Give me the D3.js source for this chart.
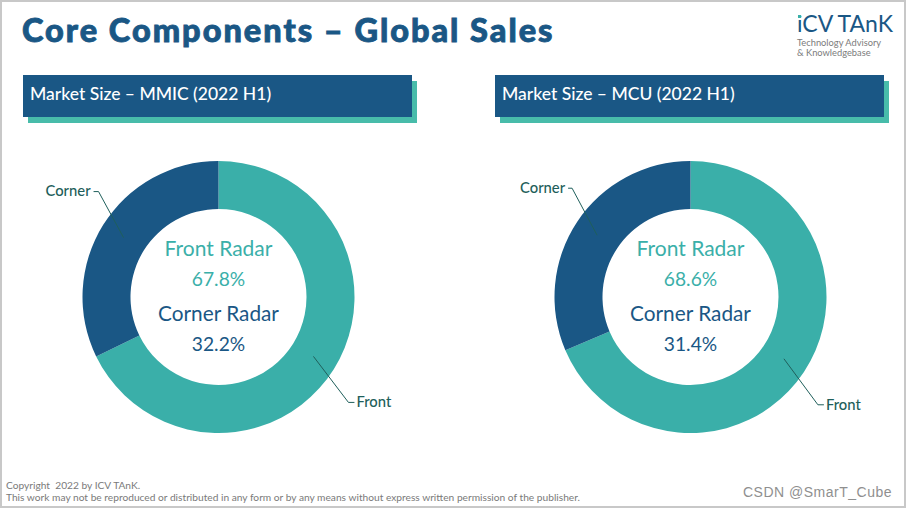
<!DOCTYPE html>
<html>
<head>
<meta charset="utf-8">
<script src="https://cdn.jsdelivr.net/npm/d3@7"></script>
<style>
html,body{margin:0;padding:0;background:#fff;}
svg{display:block;}
text{font-family:Lato,"Noto Sans",sans-serif;white-space:pre;}
</style>
</head>
<body>
<div id="chart"></div>
<script>
var width = 906,
	height = 508,
	cy = 297,
	outer_r = 136,
	inner_r = 88;

var navy = "#1a5785",
	teal = "#3aafa9",
	shadow = "#48bcaa",
	leader = "#1f5f5b";

// data
var categories = ["Front","Corner"];
var mmic_values = [67.8,32.2];
var mcu_values = [68.6,31.4];
var center_labels = ["Front Radar","Corner Radar"];
var panel_titles = ["Market Size – MMIC (2022 H1)","Market Size – MCU (2022 H1)"];

var panels = [
	{title:panel_titles[0], values:mmic_values, cx:218.5, bar_x:23, bar_w:389,
		elbows:{Front:[35,46,6],Corner:[-25,-46,-5]}},
	{title:panel_titles[1], values:mcu_values, cx:690.5, bar_x:495, bar_w:389,
		elbows:{Front:[34,46,6],Corner:[-25,-47,-4]}}
];

var svg = d3.select("#chart").append("svg")
	.attr("width",width)
	.attr("height",height);

svg.append("rect")
	.attr("x",1).attr("y",1)
	.attr("width",width-2).attr("height",height-2)
	.attr("fill","#fff")
	.attr("stroke","#c8c8c8")
	.attr("stroke-width",2);

svg.append("text")
	.attr("x",22).attr("y",42)
	.attr("fill",navy)
	.attr("stroke",navy)
	.attr("stroke-width",0.9)
	.attr("font-size",32.5)
	.attr("font-weight",900)
	.attr("letter-spacing",2)
	.text("Core Components – Global Sales");

// logo
var logo = svg.append("g");
logo.append("text")
	.attr("x",797).attr("y",32)
	.attr("fill",navy)
	.attr("font-size",23)
	.text("iCV TAnK");
logo.append("rect")
	.attr("x",798).attr("y",15)
	.attr("width",3).attr("height",3)
	.attr("fill",teal);
logo.append("text")
	.attr("x",797).attr("y",45.5)
	.attr("fill","#7b7b7b")
	.attr("font-size",9.3)
	.text("Technology Advisory");
logo.append("text")
	.attr("x",797).attr("y",55.5)
	.attr("fill","#7b7b7b")
	.attr("font-size",9.3)
	.text("& Knowledgebase");

var pie = d3.pie().sort(null).value(function(d){return d.value});
var arc = d3.arc().innerRadius(inner_r).outerRadius(outer_r);
var color = d3.scaleOrdinal().domain(categories).range([teal,navy]);

panels.forEach(function(p){
	var g = svg.append("g");

	g.append("rect")
		.attr("x",p.bar_x+5).attr("y",81)
		.attr("width",p.bar_w).attr("height",42)
		.attr("fill",shadow);
	g.append("rect")
		.attr("x",p.bar_x).attr("y",75)
		.attr("width",p.bar_w).attr("height",42)
		.attr("fill",navy);
	g.append("text")
		.attr("x",p.bar_x+7).attr("y",100)
		.attr("fill","#fff")
		.attr("font-size",17.5)
		.attr("font-weight",500)
		.text(p.title);

	var data = categories.map(function(c,i){return {name:c, value:p.values[i]}});
	var donut = g.append("g").attr("transform","translate("+p.cx+","+cy+")");

	donut.selectAll(".slice").data(pie(data)).enter().append("path")
		.attr("class","slice")
		.attr("d",arc)
		.attr("fill",function(d){return color(d.data.name)});

	// leader lines start from the slice centroid
	donut.selectAll(".leader").data(pie(data)).enter().append("polyline")
		.attr("class","leader")
		.attr("fill","none")
		.attr("stroke",leader)
		.attr("stroke-width",1)
		.attr("points",function(d){
			var c = arc.centroid(d), e = p.elbows[d.data.name];
			var x = c[0]+e[0], y = c[1]+e[1];
			return [c,[x,y],[x+e[2],y]].join(" ");
		});

	donut.selectAll(".cat").data(pie(data)).enter().append("text")
		.attr("class","cat")
		.attr("fill",leader)
		.attr("font-size",14.8)
		.attr("font-weight",500)
		.attr("dy","0.32em")
		.attr("text-anchor",function(d){return d.data.name=="Front" ? "start" : "end"})
		.attr("x",function(d){
			var e = p.elbows[d.data.name];
			return arc.centroid(d)[0]+e[0]+e[2]+(e[2]>0 ? 2 : -3);
		})
		.attr("y",function(d){return arc.centroid(d)[1]+p.elbows[d.data.name][1]})
		.text(function(d){return d.data.name});

	// center text
	var rows = [
		{t:center_labels[0], y:-41, c:teal, s:21},
		{t:p.values[0].toFixed(1)+"%", y:-11, c:teal, s:19.2},
		{t:center_labels[1], y:24, c:navy, s:20.8},
		{t:p.values[1].toFixed(1)+"%", y:54, c:navy, s:19.2}
	];
	donut.selectAll(".mid").data(rows).enter().append("text")
		.attr("class","mid")
		.attr("text-anchor","middle")
		.attr("y",function(d){return d.y})
		.attr("fill",function(d){return d.c})
		.attr("font-size",function(d){return d.s})
		.text(function(d){return d.t});
});

// footer
svg.append("text").attr("x",6).attr("y",489)
	.attr("fill","#7a7a7a").attr("font-size",10.2)
	.text("Copyright  2022 by ICV TAnK.");
svg.append("text").attr("x",6).attr("y",501)
	.attr("fill","#7a7a7a").attr("font-size",10.2)
	.text("This work may not be reproduced or distributed in any form or by any means without express written permission of the publisher.");
svg.append("text").attr("x",743).attr("y",497)
	.attr("fill","#8f8f8f").attr("font-size",14)
	.attr("letter-spacing",0.5)
	.style("font-family","'Liberation Sans',sans-serif")
	.text("CSDN @SmarT_Cube");
</script>
</body>
</html>
